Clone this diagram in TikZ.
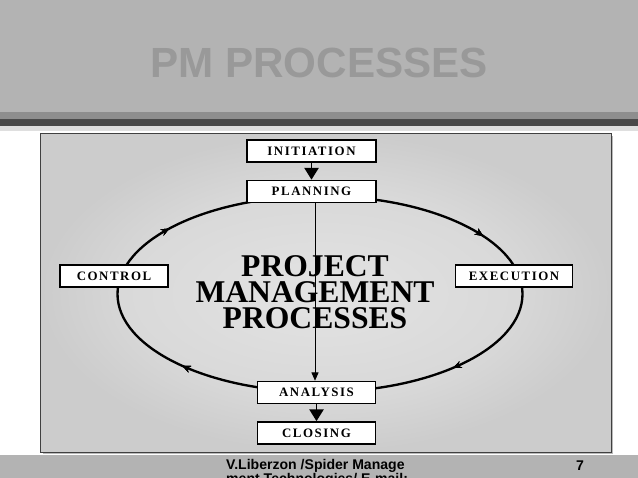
\documentclass[tikz,border=0pt]{standalone}
\usepackage{fontspec}
\setmainfont{Liberation Serif}
\newfontfamily\headfont{Liberation Sans}
\newfontfamily\boxfont[LetterSpace=12]{Liberation Serif}
\usetikzlibrary{arrows.meta,decorations.markings}
\definecolor{bandgray}{HTML}{B3B3B3}
\definecolor{stripegray}{HTML}{8E8E8E}
\definecolor{darkband}{HTML}{4A4A4A}
\definecolor{titlegray}{HTML}{999999}
\tikzset{
  phase/.style={draw=black, line width=1.2pt, fill=white, minimum height=19pt,
    inner sep=0pt, font=\boxfont\fontsize{11}{12}\selectfont\bfseries},
  flow/.style={line width=1.6pt, -{Triangle[width=12pt,length=10pt]}},
  cycletip/.style={decoration={markings,
      mark=at position #1 with {\arrow{Stealth[width=6pt,length=7pt]}}}, postaction=decorate}
}
\begin{document}
\begin{tikzpicture}[x=0.03cm,y=-0.03cm]
          \useasboundingbox (0,0) rectangle (638,478);
          \clip (0,0) rectangle (638,478);
          % slide background
          \fill[white] (0,0) rectangle (638,478);
          \fill[bandgray] (0,0) rectangle (638,112);
          \fill[stripegray] (0,112) rectangle (638,119);
          \fill[darkband] (0,119) rectangle (638,126);
          \fill[gray!25] (0,126) rectangle (638,131);
          \fill[bandgray] (0,455) rectangle (638,478);
          \node[font=\headfont\fontsize{36}{38}\selectfont\bfseries, text=titlegray] (title) at (319,63) {PM PROCESSES};

          % diagram frame
          \fill[gray!55] (43,136) rectangle (613,454);
          \shade[inner color=gray!12, outer color=gray!40, draw=black!75, line width=0.6pt] (40,133) rectangle (611,452);
          \shade[inner color=gray!22, outer color=gray!30] (320,294) ellipse [x radius=202.5, y radius=98];
          \draw[line width=2pt, cycletip=0.11, cycletip=0.395, cycletip=0.59, cycletip=0.925] (320,294) ellipse [x radius=202.5, y radius=98];

          \node[font=\fontsize{27}{22}\selectfont\bfseries, align=center] (core) at (315,292) {PROJECT\\MANAGEMENT\\PROCESSES};

          \node[phase, minimum width=110pt] (init) at (311.5,151) {INITIATION};
          \node[phase, minimum width=110pt] (plan) at (311.5,191.5) {PLANNING};
          \node[phase, minimum width=92pt] (ctrl) at (114,276) {CONTROL};
          \node[phase, minimum width=100pt] (exec) at (514,276) {EXECUTION};
          \node[phase, minimum width=101pt] (anal) at (316.5,392.5) {ANALYSIS};
          \node[phase, minimum width=101pt] (close) at (316.5,433) {CLOSING};

          \draw[flow] (init) -- (plan);
          \draw[line width=0.6pt, -{Triangle[width=6pt,length=7pt]}] (plan.south -| core) -- (anal.north -| core);
          \draw[flow] (anal) -- (close);

          % footer
          \node[font=\headfont\fontsize{12}{11}\selectfont\bfseries, anchor=north west, align=left, inner sep=0pt] (credit) at (226,459) {V.Liberzon /Spider Manage\\ment Technologies/ E-mail:};
          \node[font=\headfont\fontsize{12}{12}\selectfont\bfseries, inner sep=0pt] (page) at (580,466) {7};
        \end{tikzpicture}
\end{document}
